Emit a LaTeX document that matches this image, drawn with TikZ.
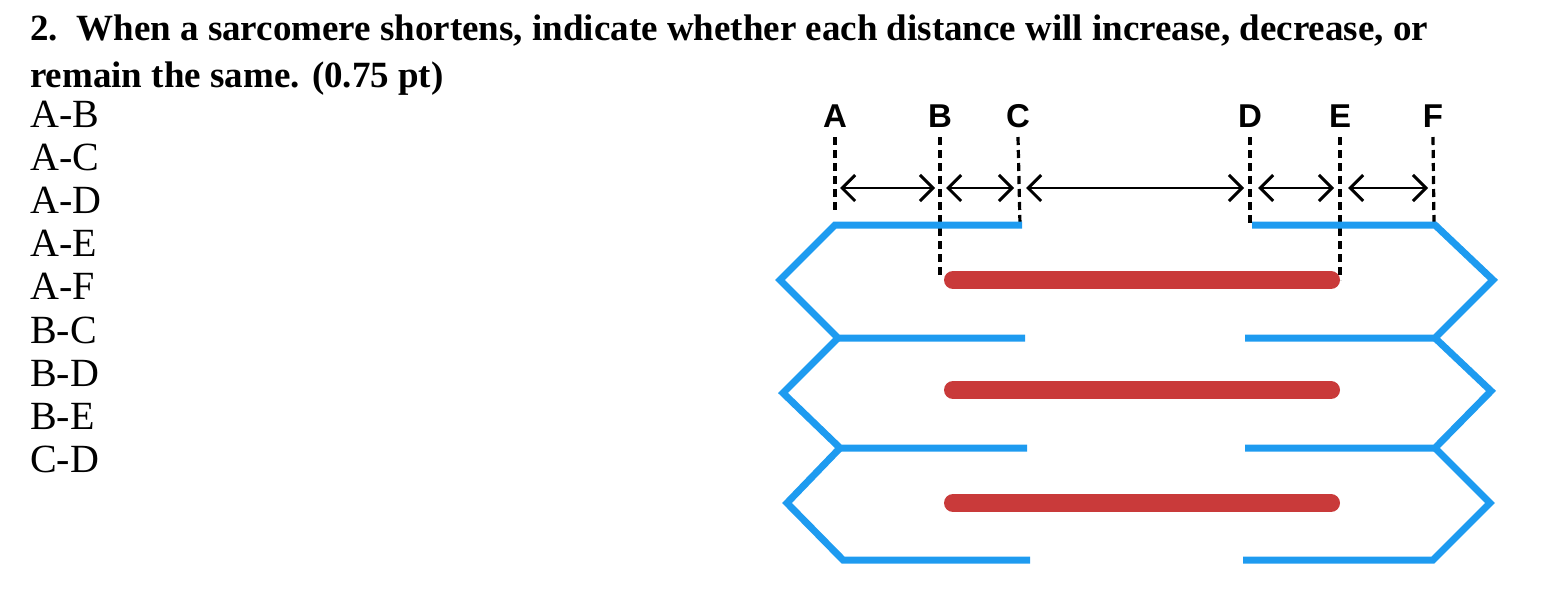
\documentclass[tikz,border=0pt]{standalone}
\usepackage{fontspec}
\setmainfont{Liberation Serif}
\newfontfamily\arialf{Liberation Sans}
\usetikzlibrary{arrows.meta}
\definecolor{actin}{HTML}{1E9BF0}
\definecolor{myosin}{HTML}{C93A3A}
\begin{document}
\begin{tikzpicture}[x=1pt,y=-1pt,
  thin/.style={line width=7pt,color=actin,line join=miter},
  thick/.style={line width=18pt,color=myosin,line cap=round},
  dline/.style={line width=3.2pt,dash pattern=on 8pt off 5pt},
  dim/.style={line width=2.8pt,{Straight Barb[length=13pt,width=26pt,line width=3pt]}-{Straight Barb[length=13pt,width=26pt,line width=3pt]}},
  lett/.style={font=\arialf\bfseries\fontsize{33}{34}\selectfont,inner sep=0pt},
  qtext/.style={anchor=base west,inner sep=0pt,font=\fontsize{40}{42}\selectfont}]
\useasboundingbox (0,0) rectangle (1558,598);
\node[qtext,font=\bfseries\fontsize{37}{40}\selectfont] (t1) at (30,40) {2.\ \ When a sarcomere shortens, indicate whether each distance will increase, decrease, or};
\node[qtext,font=\bfseries\fontsize{37}{40}\selectfont] (t2) at (30,87) {remain the same. (0.75 pt)};
\foreach \s [count=\i from 0] in {A-B,A-C,A-D,A-E,A-F,B-C,B-D,B-E,C-D}
  \node[qtext] (q\i) at (30,127+43.2*\i) {\s};
% letters
\foreach \n/\x in {A/835,B/940,C/1018,D/1250,E/1340,F/1433}
  \node[lett] (L\n) at (\x,116) {\n};
\coordinate (dA) at (835,212); \coordinate (dB) at (940,275);
\coordinate (dC) at (1020,225); \coordinate (dD) at (1250,225);
\coordinate (dE) at (1340,280); \coordinate (dF) at (1434,225);
\foreach \n in {A,B,C,D,E,F}
  \draw[dline] (L\n.south |- 0,137) -- (d\n);
% arrows
\coordinate (a1) at (840,188); \coordinate (a2) at (935,188);
\coordinate (b1) at (946,188); \coordinate (b2) at (1014,188);
\coordinate (c1) at (1026,188); \coordinate (c2) at (1244,188);
\coordinate (e1) at (1258,188); \coordinate (e2) at (1334,188);
\coordinate (f1) at (1348,188); \coordinate (f2) at (1428,188);
\draw[dim] (a1)--(a2); \draw[dim] (b1)--(b2); \draw[dim] (c1)--(c2);
\draw[dim] (e1)--(e2); \draw[dim] (f1)--(f2);
% thin filaments
\draw[thin] (1022,225) -- (835,225) -- (780,280) -- (838,338) -- (1025,338);
\draw[thin] (838,338) -- (783,393) -- (840,448) -- (1027,448);
\draw[thin] (840,448) -- (787,503) -- (843,560) -- (1030,560);
\draw[thin] (1252,225) -- (1435,225) -- (1493,280) -- (1435,338) -- (1245,338);
\draw[thin] (1435,338) -- (1491,391) -- (1435,448) -- (1245,448);
\draw[thin] (1435,448) -- (1490,503) -- (1433,560) -- (1243,560);
% thick filaments
\draw[thick] (953,280) -- (1331,280);
\draw[thick] (953,390) -- (1331,390);
\draw[thick] (953,503) -- (1331,503);
\end{tikzpicture}
\end{document}
